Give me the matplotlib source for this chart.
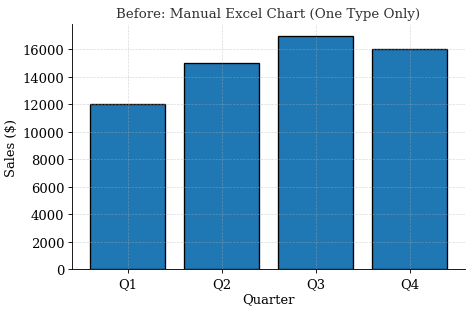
import matplotlib
matplotlib.use("Agg")
import matplotlib.pyplot as plt

quarters = ["Q1", "Q2", "Q3", "Q4"]
sales = [12000, 15000, 17000, 16000]
yticks = [0, 2000, 4000, 6000, 8000, 10000, 12000, 14000, 16000]

plt.rcParams['font.family'] = 'DejaVu Serif'
plt.rcParams['font.size'] = 12

fig, ax = plt.subplots(figsize=(6, 3.962), dpi=79)
ax.bar(quarters, sales, color="#1f77b4", edgecolor="black", linewidth=1.2)
ax.set_title("Before: Manual Excel Chart (One Type Only)", color="#333333", fontsize=12.2)
ax.set_xlabel("Quarter", fontsize=12, labelpad=2)
ax.set_ylabel("Sales ($)", fontsize=12)
ax.set_yticks(yticks)
ax.tick_params(labelsize=12)
ax.grid(True, linestyle="--", linewidth=0.6, alpha=0.5, color="#b0b0b0")
ax.spines["top"].set_visible(False)
ax.spines["right"].set_visible(False)

fig.subplots_adjust(left=0.152, right=0.981, bottom=0.137, top=0.92)
fig.savefig("out.png")
